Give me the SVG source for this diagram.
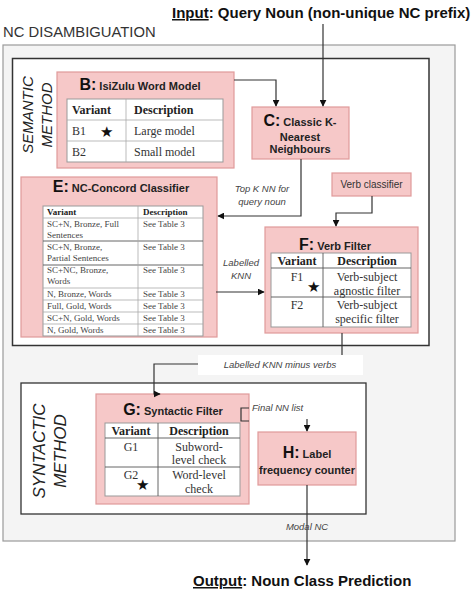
<svg xmlns="http://www.w3.org/2000/svg" width="474" height="594" viewBox="0 0 474 594">
<defs>
<marker id="arr" viewBox="0 0 10 10" refX="9" refY="5" markerWidth="7" markerHeight="7" orient="auto" markerUnits="userSpaceOnUse"><path d="M0,0 L10,5 L0,10 z" fill="#111"/></marker>
<style>
.sans{font-family:"Liberation Sans",Arial,sans-serif}
.serif{font-family:"Liberation Serif","Times New Roman",serif}
.node{fill:#f6c8c8;stroke:#e09a9a;stroke-width:1.2}
.tbl{fill:#fff;stroke:#999;stroke-width:1}
.grid{stroke:#aaa;stroke-width:0.8}
.gridd{stroke:#555;stroke-width:0.9}
.conn{fill:none;stroke:#333;stroke-width:1.2}
.big{font-weight:bold;font-size:16px;fill:#111}
.ttl{font-weight:bold;font-size:11px;fill:#222}
.hd{font-weight:bold;font-size:12px;fill:#222}
.cell{font-size:12px;fill:#333}
.hds{font-weight:bold;font-size:9px;fill:#222}
.cells{font-size:9px;fill:#444}
.lbl{font-style:italic;font-size:9.5px;fill:#444}
.star{font-family:"DejaVu Sans",sans-serif;font-size:15px;fill:#111}
</style>
</defs>

<!-- header texts -->
<text class="sans" x="172" y="18" font-size="15" font-weight="bold" fill="#111"><tspan text-decoration="underline">Input</tspan>: Query Noun (non-unique NC prefix)</text>

<!-- containers -->
<g id="nc-disambiguation">
<rect x="3" y="45" width="452" height="496" fill="#f4f4f4" stroke="#9a9a9a" stroke-width="1.2"/>
<text class="sans" x="3" y="37" font-size="14.8" fill="#333">NC DISAMBIGUATION</text>
</g>
<g id="semantic-method">
<rect x="12.5" y="58.5" width="416.5" height="287" fill="#fff" stroke="#333" stroke-width="1.5"/>
<text class="sans" font-size="15" font-style="italic" fill="#222" text-anchor="middle" transform="translate(33,115) rotate(-90)">SEMANTIC</text>
<text class="sans" font-size="15" font-style="italic" fill="#222" text-anchor="middle" transform="translate(52,115) rotate(-90)">METHOD</text>
</g>
<g id="syntactic-method">
<rect x="21" y="383" width="345" height="131" fill="#fff" stroke="#333" stroke-width="1.3"/>
<text class="sans" font-size="17" font-style="italic" fill="#222" text-anchor="middle" transform="translate(45,451) rotate(-90)">SYNTACTIC</text>
<text class="sans" font-size="17" font-style="italic" fill="#222" text-anchor="middle" transform="translate(66,451) rotate(-90)">METHOD</text>
</g>

<!-- B -->
<g id="node-B">
<rect class="node" x="57" y="72" width="177" height="96"/>
<text class="sans" x="140" y="90" text-anchor="middle"><tspan class="big">B:</tspan><tspan class="ttl" dx="3">IsiZulu Word Model</tspan></text>
<rect class="tbl" x="67" y="99" width="156" height="63"/>
<line class="grid" x1="67" y1="120" x2="223" y2="120"/>
<line class="grid" x1="67" y1="141" x2="223" y2="141"/>
<line class="grid" x1="126" y1="99" x2="126" y2="162"/>
<text class="serif hd" x="72" y="114">Variant</text>
<text class="serif hd" x="134" y="114">Description</text>
<text class="serif cell" x="72" y="135">B1</text>
<text class="star" x="100" y="137">★</text>
<text class="serif cell" x="134" y="135">Large model</text>
<text class="serif cell" x="72" y="156">B2</text>
<text class="serif cell" x="134" y="156">Small model</text>
</g>

<!-- C -->
<g id="node-C">
<rect class="node" x="252" y="107" width="97" height="52"/>
<text class="sans" x="300" y="126" text-anchor="middle"><tspan class="big">C:</tspan><tspan class="ttl" dx="3">Classic K-</tspan></text>
<text class="sans ttl" x="300" y="141" text-anchor="middle">Nearest</text>
<text class="sans ttl" x="300" y="153" text-anchor="middle">Neighbours</text>
</g>

<!-- Verb classifier -->
<g id="node-verb-classifier">
<rect class="node" x="332" y="173" width="79" height="23"/>
<text class="sans" x="371.5" y="188" text-anchor="middle" font-size="10" fill="#333">Verb classifier</text>
</g>

<!-- E -->
<g id="node-E">
<rect class="node" x="21" y="177" width="196" height="160"/>
<text class="sans" x="121" y="192" text-anchor="middle"><tspan class="big">E:</tspan><tspan class="ttl" dx="3" font-size="11.5">NC-Concord Classifier</tspan></text>
<rect class="tbl" x="43" y="206" width="160" height="130"/>
<line class="grid" x1="43" y1="218" x2="203" y2="218"/>
<line class="gridd" x1="43" y1="241" x2="203" y2="241"/>
<line class="gridd" x1="43" y1="265" x2="203" y2="265"/>
<line class="grid" x1="43" y1="288" x2="203" y2="288"/>
<line class="grid" x1="43" y1="300" x2="203" y2="300"/>
<line class="grid" x1="43" y1="312" x2="203" y2="312"/>
<line class="grid" x1="43" y1="324" x2="203" y2="324"/>
<line class="grid" x1="138" y1="206" x2="138" y2="336"/>
<text class="serif hds" x="47" y="215">Variant</text>
<text class="serif hds" x="143" y="215">Description</text>
<text class="serif cells" x="47" y="227">SC+N, Bronze, Full</text>
<text class="serif cells" x="47" y="238">Sentences</text>
<text class="serif cells" x="143" y="227">See Table 3</text>
<text class="serif cells" x="47" y="250">SC+N, Bronze,</text>
<text class="serif cells" x="47" y="261">Partial Sentences</text>
<text class="serif cells" x="143" y="250">See Table 3</text>
<text class="serif cells" x="47" y="273">SC+NC, Bronze,</text>
<text class="serif cells" x="47" y="284">Words</text>
<text class="serif cells" x="143" y="273">See Table 3</text>
<text class="serif cells" x="47" y="297">N, Bronze, Words</text>
<text class="serif cells" x="143" y="297">See Table 3</text>
<text class="serif cells" x="47" y="309">Full, Gold, Words</text>
<text class="serif cells" x="143" y="309">See Table 3</text>
<text class="serif cells" x="47" y="321">SC+N, Gold, Words</text>
<text class="serif cells" x="143" y="321">See Table 3</text>
<text class="serif cells" x="47" y="333">N, Gold, Words</text>
<text class="serif cells" x="143" y="333">See Table 3</text>
</g>

<!-- F -->
<g id="node-F">
<rect class="node" x="265" y="227" width="153" height="106"/>
<text class="sans" x="335" y="250" text-anchor="middle"><tspan class="big">F:</tspan><tspan class="ttl" dx="3" font-size="12">Verb Filter</tspan></text>
<rect class="tbl" x="271" y="253" width="140" height="74"/>
<line class="gridd" x1="271" y1="268" x2="411" y2="268"/>
<line class="gridd" x1="271" y1="297" x2="411" y2="297"/>
<line class="gridd" x1="323" y1="253" x2="323" y2="327"/>
<text class="serif hd" x="297" y="265" text-anchor="middle">Variant</text>
<text class="serif hd" x="367" y="265" text-anchor="middle">Description</text>
<text class="serif cell" x="297" y="281" text-anchor="middle" font-size="11">F1</text>
<text class="star" x="307" y="292">★</text>
<text class="serif cell" x="367" y="281" text-anchor="middle" font-size="11">Verb-subject</text>
<text class="serif cell" x="367" y="295" text-anchor="middle" font-size="11">agnostic filter</text>
<text class="serif cell" x="297" y="309" text-anchor="middle" font-size="11">F2</text>
<text class="serif cell" x="367" y="309" text-anchor="middle" font-size="11">Verb-subject</text>
<text class="serif cell" x="367" y="323" text-anchor="middle" font-size="11">specific filter</text>
</g>

<!-- G -->
<g id="node-G">
<rect class="node" x="96" y="394" width="153" height="110"/>
<text class="sans" x="173" y="415" text-anchor="middle"><tspan class="big">G:</tspan><tspan class="ttl" dx="3" font-size="12">Syntactic Filter</tspan></text>
<rect class="tbl" x="105" y="423" width="135" height="73"/>
<line class="gridd" x1="105" y1="438" x2="240" y2="438"/>
<line class="gridd" x1="105" y1="467" x2="240" y2="467"/>
<line class="gridd" x1="158" y1="423" x2="158" y2="496"/>
<text class="serif hd" x="131" y="435" text-anchor="middle">Variant</text>
<text class="serif hd" x="199" y="435" text-anchor="middle">Description</text>
<text class="serif cell" x="131" y="451" text-anchor="middle" font-size="11">G1</text>
<text class="serif cell" x="199" y="451" text-anchor="middle" font-size="11">Subword-</text>
<text class="serif cell" x="199" y="464" text-anchor="middle" font-size="11">level check</text>
<text class="serif cell" x="131" y="479" text-anchor="middle" font-size="11">G2</text>
<text class="star" x="136" y="490">★</text>
<text class="serif cell" x="199" y="479" text-anchor="middle" font-size="11">Word-level</text>
<text class="serif cell" x="199" y="493" text-anchor="middle" font-size="11">check</text>
</g>

<!-- H -->
<g id="node-H">
<rect class="node" x="258" y="432" width="98" height="53"/>
<text class="sans" x="307" y="458" text-anchor="middle"><tspan class="big">H:</tspan><tspan class="ttl" dx="3">Label</tspan></text>
<text class="sans ttl" x="307" y="474" text-anchor="middle">frequency counter</text>
</g>

<!-- connectors -->
<g id="connectors">
<path class="conn" d="M323,24 V106" marker-end="url(#arr)"/>
<path class="conn" d="M234,80 H276 V106" marker-end="url(#arr)"/>
<path class="conn" d="M301,159 V216 H218" marker-end="url(#arr)"/>
<path class="conn" d="M216,292 H264" marker-end="url(#arr)"/>
<path class="conn" d="M372,196 V213 H336 V226" marker-end="url(#arr)"/>
<path class="conn" d="M342,333 V356"/>
<path class="conn" d="M198,364 H154 V394 H160" marker-end="url(#arr)"/>
<path class="conn" d="M249,421 H241 V408 H249"/>
<path class="conn" d="M307,419 V431" marker-end="url(#arr)"/>
<path class="conn" d="M307,485 V565" marker-end="url(#arr)"/>
<text class="sans lbl" x="262" y="192" text-anchor="middle">Top K NN for</text>
<text class="sans lbl" x="262" y="205" text-anchor="middle">query noun</text>
<text class="sans lbl" x="241" y="266" text-anchor="middle">Labelled</text>
<text class="sans lbl" x="241" y="279" text-anchor="middle">KNN</text>
<rect x="198" y="355" width="165" height="20" fill="#fff"/>
<text class="sans lbl" x="280" y="368" text-anchor="middle">Labelled KNN minus verbs</text>
<text class="sans lbl" x="252" y="411">Final NN list</text>
<text class="sans lbl" x="307" y="530" text-anchor="middle" fill="#555">Modal NC</text>
</g>

<text class="sans" x="193" y="586" font-size="15" font-weight="bold" fill="#111"><tspan text-decoration="underline">Output</tspan>: Noun Class Prediction</text>
</svg>
